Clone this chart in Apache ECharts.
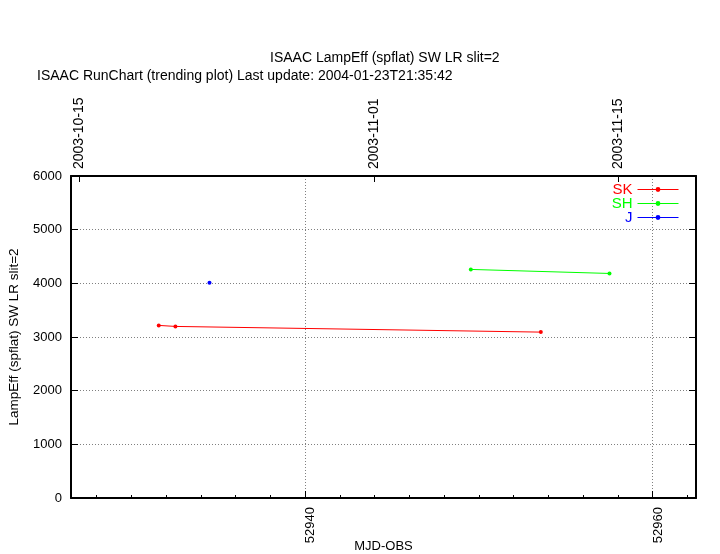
<!DOCTYPE html>
<html>
<head>
<meta charset="utf-8">
<script src="https://cdn.jsdelivr.net/npm/echarts@6/dist/echarts.min.js"></script>
<style>
html,body{margin:0;padding:0;background:#fff;}
#chart{width:720px;height:554px;}
</style>
</head>
<body>
<div id="chart"></div>
<script>
// ---- data ----
var skX = [52931.58, 52932.54, 52953.57];
var skY = [3216, 3197, 3091];
var shX = [52949.54, 52957.52];
var shY = [4259, 4184];
var jX = [52934.50];
var jY = [4011];

var xMin = 52926.53, xMax = 52962.5;
var xMajorTicks = [52940, 52960];
var xMinorTicks = [52928, 52930, 52932, 52934, 52936, 52938, 52942, 52944, 52946, 52948, 52950, 52952, 52954, 52956, 52958, 52962];
var dateTicks = [52927, 52944, 52958];
var dateLabels = ['2003-10-15', '2003-11-01', '2003-11-15'];

function pairs(xs, ys) { return xs.map(function (x, i) { return [x, ys[i]]; }); }

var FONT = 'Liberation Sans';
var dotted = { color: '#808080', width: 1, type: [1, 2] };
var axLine = { show: true, onZero: false, lineStyle: { color: '#000', width: 2 } };

var chart = echarts.init(document.getElementById('chart'), null, { renderer: 'canvas' });
chart.setOption({
  animation: false,
  backgroundColor: '#fff',
  textStyle: { fontFamily: FONT },
  title: [
    { text: 'ISAAC LampEff (spflat) SW LR slit=2', left: 265, top: 46,
      textStyle: { fontFamily: FONT, fontSize: 14, fontWeight: 'normal', color: '#000' } },
    { text: 'ISAAC RunChart (trending plot) Last update: 2004-01-23T21:35:42', left: 32, top: 64,
      textStyle: { fontFamily: FONT, fontSize: 14, fontWeight: 'normal', color: '#000' } }
  ],
  legend: {
    orient: 'vertical', right: 36, top: 177, align: 'right',
    itemWidth: 41, itemHeight: 6, itemGap: -1,
    textStyle: { fontFamily: FONT, fontSize: 15 },
    data: [
      { name: 'SK', textStyle: { color: '#ff0000' }, lineStyle: { color: '#ff0000', width: 1 } },
      { name: 'SH', textStyle: { color: '#00ff00' }, lineStyle: { color: '#00ff00', width: 1 } },
      { name: 'J', textStyle: { color: '#0000ff' }, lineStyle: { color: '#0000ff', width: 1 } }
    ]
  },
  grid: { left: 71, right: 24, top: 176, bottom: 56, containLabel: false, outerBoundsMode: 'none' },
  xAxis: [
    { type: 'value', position: 'bottom', min: xMin, max: xMax,
      axisLine: axLine,
      axisTick: { show: true, inside: true, length: 7, customValues: xMajorTicks, lineStyle: { color: '#000', width: 1 } },
      axisLabel: { show: true, customValues: xMajorTicks, rotate: 90, margin: 9, fontSize: 13, color: '#000', fontFamily: FONT,
        verticalAlign: 'top', lineHeight: 11,
        formatter: function (v) { return String(v); } },
      splitLine: { show: true, lineStyle: dotted },
      name: 'MJD-OBS', nameLocation: 'middle', nameGap: 42, nameMoveOverlap: false,
      nameTextStyle: { fontFamily: FONT, fontSize: 13, color: '#000', verticalAlign: 'top', lineHeight: 13 } },
    { type: 'value', position: 'top', min: xMin, max: xMax,
      axisLine: axLine,
      axisTick: { show: true, inside: true, length: 6, customValues: dateTicks, lineStyle: { color: '#000', width: 1 } },
      axisLabel: { show: true, customValues: dateTicks, rotate: -90, margin: 7, fontSize: 14, color: '#000', fontFamily: FONT,
        formatter: function (v) { var i = dateTicks.indexOf(v); return i >= 0 ? dateLabels[i] : ''; } },
      splitLine: { show: false } },
    { type: 'value', position: 'bottom', min: xMin, max: xMax,
      axisLine: { show: false },
      axisTick: { show: true, inside: true, length: 3, customValues: xMinorTicks, lineStyle: { color: '#000', width: 1 } },
      axisLabel: { show: false },
      splitLine: { show: false } }
  ],
  yAxis: [
    { type: 'value', position: 'left', min: 0, max: 6000, interval: 1000,
      axisLine: axLine,
      axisTick: { show: true, inside: true, length: 7, lineStyle: { color: '#000', width: 1 } },
      axisLabel: { margin: 9, fontSize: 13, color: '#000', fontFamily: FONT,
        formatter: function (v) { return String(v); } },
      splitLine: { show: true, lineStyle: dotted },
      name: 'LampEff (spflat) SW LR slit=2', nameLocation: 'middle', nameGap: 50, nameRotate: 90,
      nameTextStyle: { fontFamily: FONT, fontSize: 13.5, color: '#000' } },
    { type: 'value', position: 'right', min: 0, max: 6000, interval: 1000,
      axisLine: axLine,
      axisTick: { show: true, inside: true, length: 7, lineStyle: { color: '#000', width: 1 } },
      axisLabel: { show: false },
      splitLine: { show: false } }
  ],
  series: [
    { name: 'SK', type: 'line', xAxisIndex: 0, yAxisIndex: 0, data: pairs(skX, skY),
      symbol: 'circle', symbolSize: 4, showSymbol: true,
      lineStyle: { color: '#ff0000', width: 1 }, itemStyle: { color: '#ff0000' } },
    { name: 'SH', type: 'line', xAxisIndex: 0, yAxisIndex: 0, data: pairs(shX, shY),
      symbol: 'circle', symbolSize: 4, showSymbol: true,
      lineStyle: { color: '#00ff00', width: 1 }, itemStyle: { color: '#00ff00' } },
    { name: 'J', type: 'line', xAxisIndex: 0, yAxisIndex: 0, data: pairs(jX, jY),
      symbol: 'circle', symbolSize: 4, showSymbol: true,
      lineStyle: { color: '#0000ff', width: 1 }, itemStyle: { color: '#0000ff' } }
  ]
});
</script>
</body>
</html>
